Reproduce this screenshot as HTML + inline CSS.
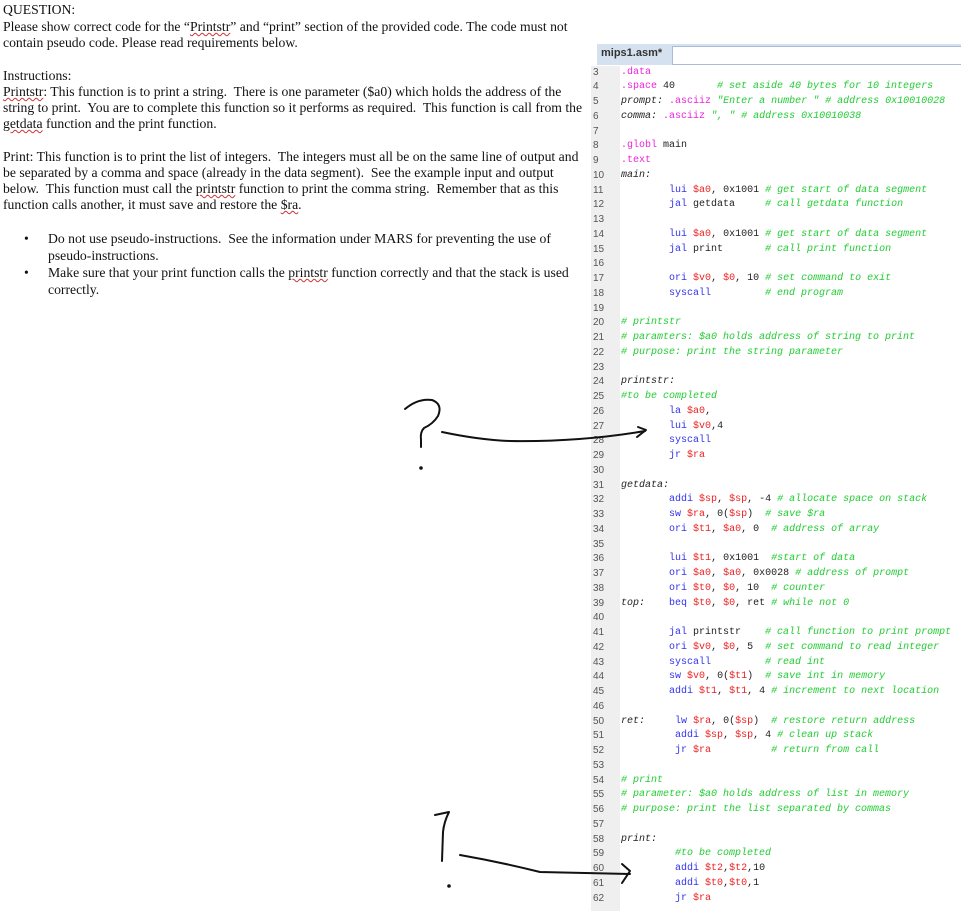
<!DOCTYPE html>
<html><head><meta charset="utf-8"><style>
body{margin:0;width:961px;height:911px;background:#fff;position:relative;overflow:hidden;font-family:"Liberation Serif",serif;}
.t{position:absolute;left:3px;font-size:13.7px;color:#111;white-space:nowrap;line-height:16px;}
.u{text-decoration:underline wavy #c33;text-decoration-thickness:1px;}
#gut{position:absolute;left:591px;top:66px;width:29px;height:845px;background:#efefef;}
.r{position:absolute;height:15px;line-height:15px;font-family:"Liberation Mono",monospace;font-size:10px;white-space:pre;color:#222;}
.n{left:593px;color:#555;font-family:"Liberation Sans",sans-serif;font-size:10px;}
.c0{left:621px;}
.k{color:#3333ee}.g{color:#22cc33;font-style:italic}.m{color:#ee22dd}.x{color:#ee2222}.l{font-style:italic;color:#222}
</style></head><body>
<div class="t" style="top:2px">QUESTION:</div>
<div class="t" style="top:19px">Please show correct code for the “<span class="u">Printstr</span>” and “print” section of the provided code. The code must not</div>
<div class="t" style="top:35px">contain pseudo code. Please read requirements below.</div>
<div class="t" style="top:68px">Instructions:</div>
<div class="t" style="top:84px"><span class="u">Printstr</span>: This function is to print a string.&nbsp; There is one parameter ($a0) which holds the address of the</div>
<div class="t" style="top:100px">string to print.&nbsp; You are to complete this function so it performs as required.&nbsp; This function is call from the</div>
<div class="t" style="top:116px"><span class="u">getdata</span> function and the print function.</div>
<div class="t" style="top:149px">Print: This function is to print the list of integers.&nbsp; The integers must all be on the same line of output and</div>
<div class="t" style="top:165px">be separated by a comma and space (already in the data segment).&nbsp; See the example input and output</div>
<div class="t" style="top:181px">below.&nbsp; This function must call the <span class="u">printstr</span> function to print the comma string.&nbsp; Remember that as this</div>
<div class="t" style="top:197px">function calls another, it must save and restore the <span class="u">$ra</span>.</div>
<div class="t" style="top:231px;left:24px">•</div>
<div class="t" style="top:231px;left:48px">Do not use pseudo-instructions.&nbsp; See the information under MARS for preventing the use of</div>
<div class="t" style="top:248px;left:48px">pseudo-instructions.</div>
<div class="t" style="top:265px;left:24px">•</div>
<div class="t" style="top:265px;left:48px">Make sure that your print function calls the <span class="u">printstr</span> function correctly and that the stack is used</div>
<div class="t" style="top:282px;left:48px">correctly.</div>

<div style="position:absolute;left:597px;top:44px;width:364px;height:21px;background:#d5e1ef;"></div>
<div style="position:absolute;left:672px;top:46px;width:289px;height:17px;background:#fff;border:1px solid #a8bcd6;"></div>
<div style="position:absolute;left:601px;top:47px;font:bold 11px 'Liberation Sans',sans-serif;color:#333;">mips1.asm*</div>
<div id="gut"></div>
<div id="code"></div>
<script>
var L=[
["3",'<span class="m">.data</span>'],
["4",'<span class="m">.space</span> 40       <span class="g"># set aside 40 bytes for 10 integers</span>'],
["5",'<span class="l">prompt:</span> <span class="m">.asciiz</span> <span class="g">"Enter a number " # address 0x10010028</span>'],
["6",'<span class="l">comma:</span> <span class="m">.asciiz</span> <span class="g">", " # address 0x10010038</span>'],
["7",''],
["8",'<span class="m">.globl</span> main'],
["9",'<span class="m">.text</span>'],
["10",'<span class="l">main:</span>'],
["11",'        <span class="k">lui</span> <span class="x">$a0</span>, 0x1001 <span class="g"># get start of data segment</span>'],
["12",'        <span class="k">jal</span> getdata     <span class="g"># call getdata function</span>'],
["13",''],
["14",'        <span class="k">lui</span> <span class="x">$a0</span>, 0x1001 <span class="g"># get start of data segment</span>'],
["15",'        <span class="k">jal</span> print       <span class="g"># call print function</span>'],
["16",''],
["17",'        <span class="k">ori</span> <span class="x">$v0</span>, <span class="x">$0</span>, 10 <span class="g"># set command to exit</span>'],
["18",'        <span class="k">syscall</span>         <span class="g"># end program</span>'],
["19",''],
["20",'<span class="g"># printstr</span>'],
["21",'<span class="g"># paramters: $a0 holds address of string to print</span>'],
["22",'<span class="g"># purpose: print the string parameter</span>'],
["23",''],
["24",'<span class="l">printstr:</span>'],
["25",'<span class="g">#to be completed</span>'],
["26",'        <span class="k">la</span> <span class="x">$a0</span>,'],
["27",'        <span class="k">lui</span> <span class="x">$v0</span>,4'],
["28",'        <span class="k">syscall</span>'],
["29",'        <span class="k">jr</span> <span class="x">$ra</span>'],
["30",''],
["31",'<span class="l">getdata:</span>'],
["32",'        <span class="k">addi</span> <span class="x">$sp</span>, <span class="x">$sp</span>, -4 <span class="g"># allocate space on stack</span>'],
["33",'        <span class="k">sw</span> <span class="x">$ra</span>, 0(<span class="x">$sp</span>)  <span class="g"># save $ra</span>'],
["34",'        <span class="k">ori</span> <span class="x">$t1</span>, <span class="x">$a0</span>, 0  <span class="g"># address of array</span>'],
["35",''],
["36",'        <span class="k">lui</span> <span class="x">$t1</span>, 0x1001  <span class="g">#start of data</span>'],
["37",'        <span class="k">ori</span> <span class="x">$a0</span>, <span class="x">$a0</span>, 0x0028 <span class="g"># address of prompt</span>'],
["38",'        <span class="k">ori</span> <span class="x">$t0</span>, <span class="x">$0</span>, 10  <span class="g"># counter</span>'],
["39",'<span class="l">top:</span>    <span class="k">beq</span> <span class="x">$t0</span>, <span class="x">$0</span>, ret <span class="g"># while not 0</span>'],
["40",''],
["41",'        <span class="k">jal</span> printstr    <span class="g"># call function to print prompt</span>'],
["42",'        <span class="k">ori</span> <span class="x">$v0</span>, <span class="x">$0</span>, 5  <span class="g"># set command to read integer</span>'],
["43",'        <span class="k">syscall</span>         <span class="g"># read int</span>'],
["44",'        <span class="k">sw</span> <span class="x">$v0</span>, 0(<span class="x">$t1</span>)  <span class="g"># save int in memory</span>'],
["45",'        <span class="k">addi</span> <span class="x">$t1</span>, <span class="x">$t1</span>, 4 <span class="g"># increment to next location</span>'],
["46",''],
["50",'<span class="l">ret:</span>     <span class="k">lw</span> <span class="x">$ra</span>, 0(<span class="x">$sp</span>)  <span class="g"># restore return address</span>'],
["51",'         <span class="k">addi</span> <span class="x">$sp</span>, <span class="x">$sp</span>, 4 <span class="g"># clean up stack</span>'],
["52",'         <span class="k">jr</span> <span class="x">$ra</span>          <span class="g"># return from call</span>'],
["53",''],
["54",'<span class="g"># print</span>'],
["55",'<span class="g"># parameter: $a0 holds address of list in memory</span>'],
["56",'<span class="g"># purpose: print the list separated by commas</span>'],
["57",''],
["58",'<span class="l">print:</span>'],
["59",'         <span class="g">#to be completed</span>'],
["60",'         <span class="k">addi</span> <span class="x">$t2</span>,<span class="x">$t2</span>,10'],
["61",'         <span class="k">addi</span> <span class="x">$t0</span>,<span class="x">$t0</span>,1'],
["62",'         <span class="k">jr</span> <span class="x">$ra</span>']
];
var h='';
for(var i=0;i<L.length;i++){var t=(64.5+i*14.75).toFixed(2);
h+='<div class="r n" style="top:'+t+'px">'+L[i][0]+'</div><div class="r c0" style="top:'+t+'px">'+L[i][1]+'</div>';}
document.getElementById('code').innerHTML=h;
</script>
<svg width="961" height="911" style="position:absolute;left:0;top:0" fill="none" stroke="#111" stroke-width="2" stroke-linecap="round" stroke-linejoin="round">
<path d="M405 409 Q418 398 432 400 Q443 404 438 416 Q433 424 424 428 Q420 432 421 440 L421 447"/>
<path d="M442 432 Q480 440 510 441 Q580 442 645 431"/>
<path d="M638 427 L646 430 L637 437"/>
<circle cx="421" cy="468" r="0.8" fill="#111"/>
<path d="M435 815 L449 812 Q444 822 443 832 L442 861"/>
<path d="M460 855 Q500 862 540 872 L630 874"/>
<path d="M622 864 L630 871 L622 883"/>
<circle cx="449" cy="886" r="0.8" fill="#111"/>
</svg>
</body></html>
